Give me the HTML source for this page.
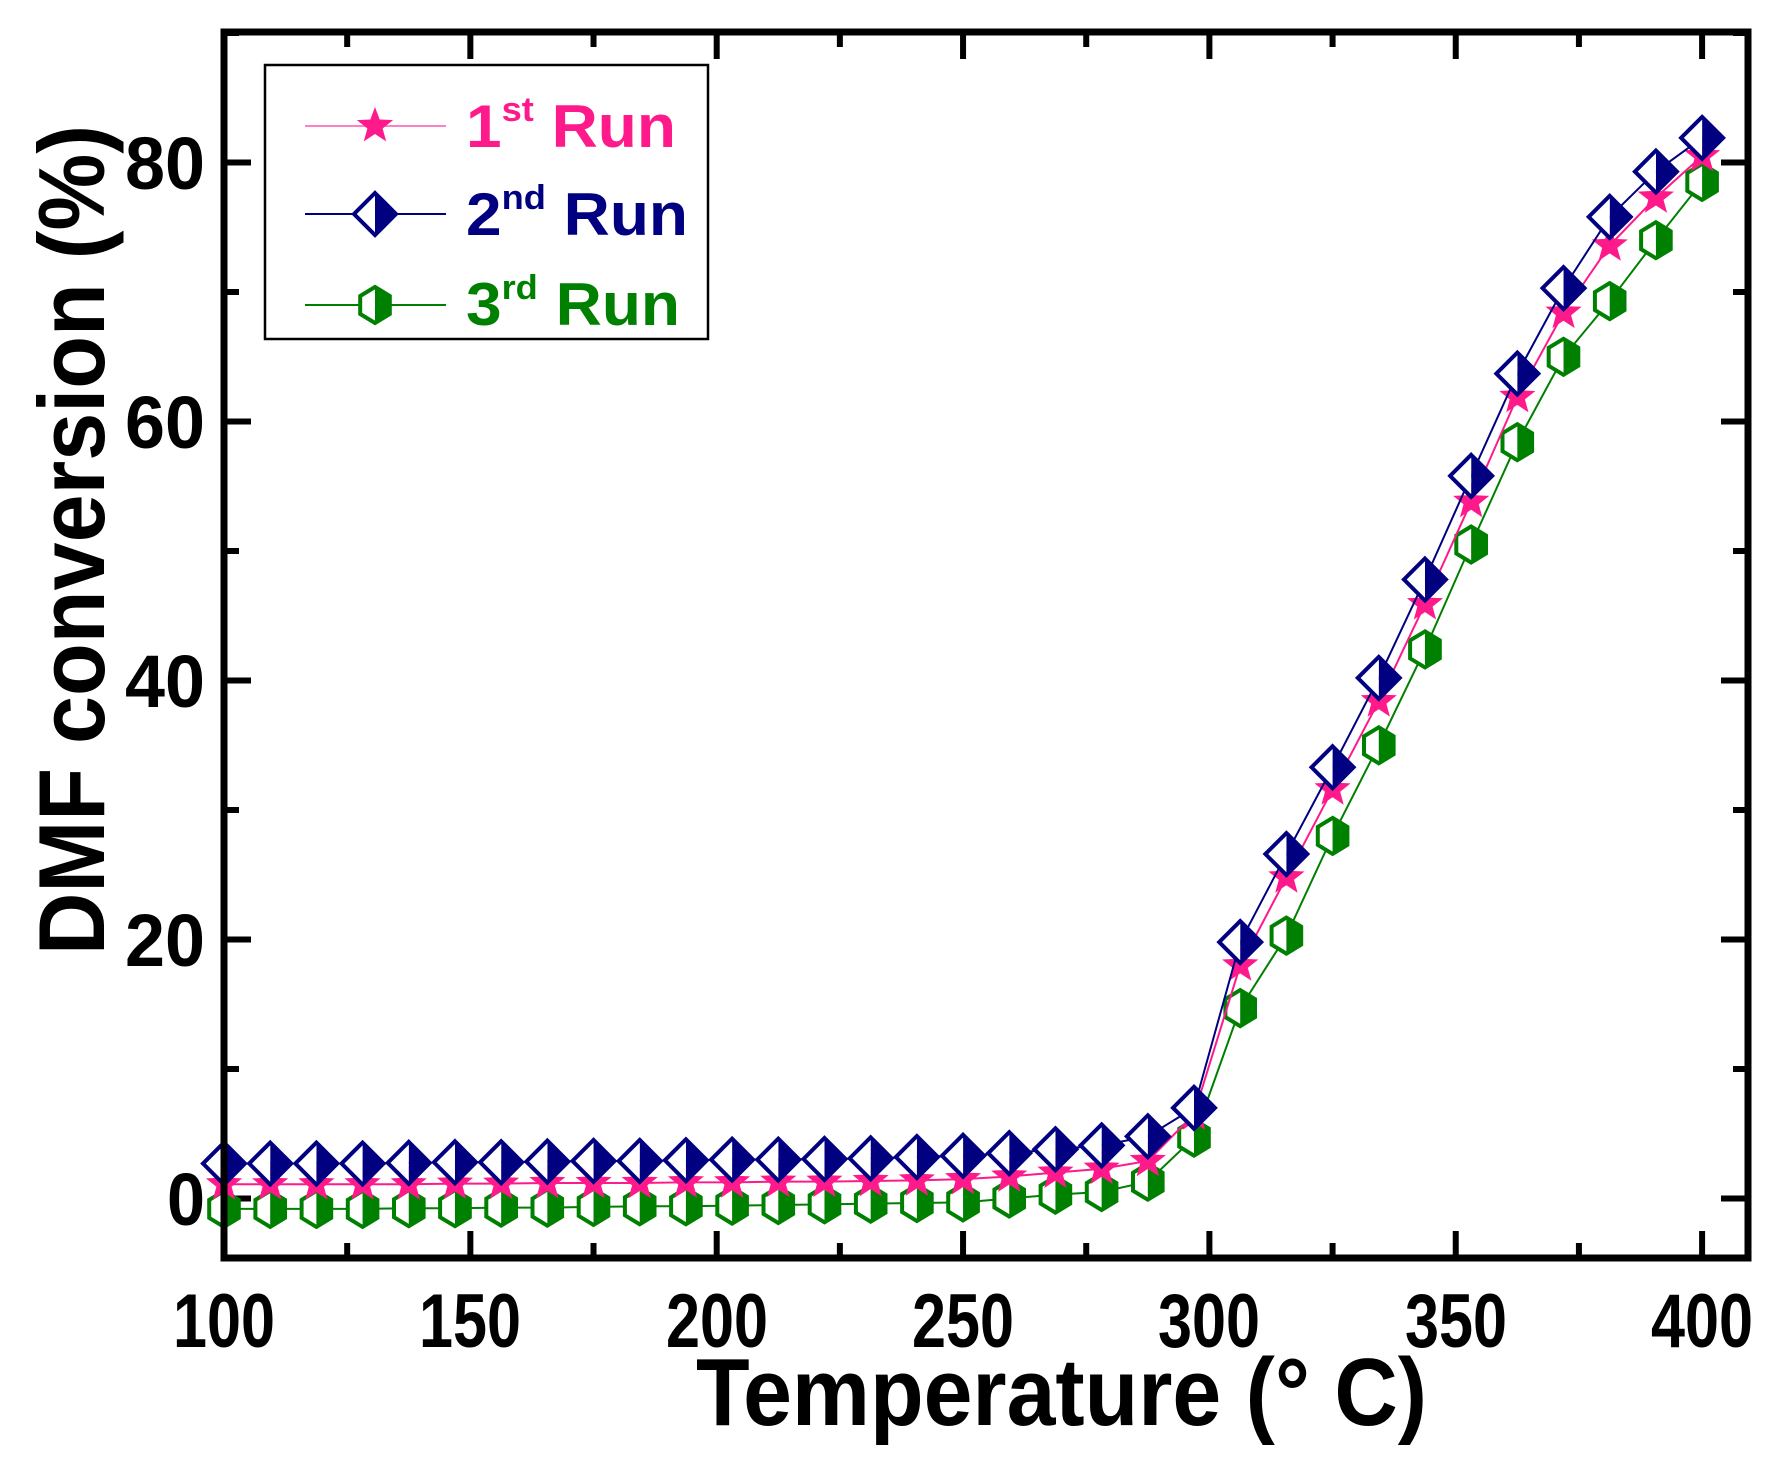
<!DOCTYPE html>
<html><head><meta charset="utf-8"><style>
html,body{margin:0;padding:0;background:#fff;}
svg{display:block;}
text{font-family:"Liberation Sans",Arial,sans-serif;font-weight:bold;}
</style></head><body>
<svg id="s" width="1776" height="1462" viewBox="0 0 1776 1462" xmlns="http://www.w3.org/2000/svg">
<rect width="1776" height="1462" fill="#fff"/>
<g id="g"></g>
<rect x="224" y="32" width="1524" height="1226" fill="none" stroke="#000" stroke-width="7"/>
<g font-size="74" text-anchor="end">
<text x="205" y="1225" textLength="38" lengthAdjust="spacingAndGlyphs">0</text>
<text x="205" y="966" textLength="80" lengthAdjust="spacingAndGlyphs">20</text>
<text x="205" y="707" textLength="80" lengthAdjust="spacingAndGlyphs">40</text>
<text x="205" y="448" textLength="80" lengthAdjust="spacingAndGlyphs">60</text>
<text x="205" y="189" textLength="80" lengthAdjust="spacingAndGlyphs">80</text>
</g>
<g font-size="76" text-anchor="middle">
<text x="224" y="1347" textLength="102" lengthAdjust="spacingAndGlyphs">100</text>
<text x="470" y="1347" textLength="102" lengthAdjust="spacingAndGlyphs">150</text>
<text x="717" y="1347" textLength="102" lengthAdjust="spacingAndGlyphs">200</text>
<text x="963" y="1347" textLength="102" lengthAdjust="spacingAndGlyphs">250</text>
<text x="1209" y="1347" textLength="102" lengthAdjust="spacingAndGlyphs">300</text>
<text x="1456" y="1347" textLength="102" lengthAdjust="spacingAndGlyphs">350</text>
<text x="1702" y="1347" textLength="102" lengthAdjust="spacingAndGlyphs">400</text>
</g>
<text x="696" y="1425" font-size="96" textLength="731" lengthAdjust="spacingAndGlyphs">Temperature (° C)</text>
<text transform="translate(104,955) rotate(-90)" font-size="94" textLength="830" lengthAdjust="spacingAndGlyphs">DMF conversion (%)</text>
<rect x="265" y="65" width="443" height="274" fill="#fff" stroke="#000" stroke-width="2.5"/>
<g id="leg"></g>
<g font-size="60">
<text x="466" y="147" fill="#ff1a8c" textLength="210" lengthAdjust="spacingAndGlyphs">1<tspan font-size="34" dy="-26">st</tspan><tspan dy="26"> Run</tspan></text>
<text x="466" y="235" fill="#000080" textLength="222" lengthAdjust="spacingAndGlyphs">2<tspan font-size="34" dy="-26">nd</tspan><tspan dy="26"> Run</tspan></text>
<text x="466" y="325" fill="#008000" textLength="214" lengthAdjust="spacingAndGlyphs">3<tspan font-size="34" dy="-26">rd</tspan><tspan dy="26"> Run</tspan></text>
</g>
</svg>
<script>
var NS="http://www.w3.org/2000/svg";
var g=document.getElementById('g'), leg=document.getElementById('leg');
function X(v){return 224+(v-100)*4.927;}
function Y(v){return 1198.5-v*12.95;}
function el(p,t,a){var e=document.createElementNS(NS,t);for(var k in a)e.setAttribute(k,a[k]);p.appendChild(e);return e;}
var tk="";
for(var v=100;v<=400;v+=25){var maj=(v%50==0),L=maj?27:15,x=X(v);
 tk+="M"+x+" 1258V"+(1258-L)+"M"+x+" 32V"+(32+L);}
for(var v=0;v<=90;v+=10){var maj=(v%20==0),L=maj?27:15,y=Y(v);
 tk+="M224 "+y+"H"+(224+L)+"M1748 "+y+"H"+(1748-L);}
el(g,'path',{d:tk,stroke:'#000','stroke-width':6,fill:'none'});
var B=[2.7,2.7,2.7,2.7,2.75,2.8,2.8,2.85,2.9,2.9,2.95,3,3,3.05,3.1,3.2,3.3,3.5,3.8,4.1,4.8,7,19.8,26.6,33.3,40.2,47.8,55.8,63.7,70.3,75.8,79.3,81.9];
var P=[1.1,1.1,1.1,1.1,1.1,1.15,1.15,1.2,1.2,1.2,1.25,1.25,1.3,1.3,1.35,1.4,1.5,1.7,2.0,2.3,2.9,6.5,18,24.8,31.6,38.4,45.9,53.8,61.9,68.4,73.6,77.3,80.5];
var G=[-0.8,-0.8,-0.8,-0.8,-0.75,-0.75,-0.7,-0.7,-0.65,-0.6,-0.6,-0.55,-0.5,-0.45,-0.4,-0.35,-0.3,0,0.3,0.5,1.3,4.7,14.7,20.3,28,35,42.4,50.5,58.4,65,69.3,74,78.5];
function pts(a){return a.map(function(v,i){return [X(100+i*9.375),Y(v)];});}
function diamond(p,x,y){var r=21;
 el(p,'path',{d:"M"+x+" "+(y-r)+"L"+(x+r)+" "+y+"L"+x+" "+(y+r)+"Z",fill:'#000080'});
 el(p,'path',{d:"M"+x+" "+(y-r)+"L"+(x-r)+" "+y+"L"+x+" "+(y+r)+"Z",fill:'#fff'});
 el(p,'path',{d:"M"+x+" "+(y-r)+"L"+(x+r)+" "+y+"L"+x+" "+(y+r)+"L"+(x-r)+" "+y+"Z",fill:'none',stroke:'#000080','stroke-width':4});}
function hexa(p,x,y){var r=18,pp=[];for(var k=0;k<6;k++){var a=Math.PI/2+k*Math.PI/3;pp.push([x+r*0.95*Math.cos(a),y-r*Math.sin(a)]);}
 var d="M"+pp.map(function(q){return q[0].toFixed(1)+" "+q[1].toFixed(1);}).join("L")+"Z";
 el(p,'path',{d:d,fill:'#fff'});
 el(p,'path',{d:"M"+x+" "+(y-r)+"L"+pp[5][0]+" "+pp[5][1]+"L"+pp[4][0]+" "+pp[4][1]+"L"+x+" "+(y+r)+"Z",fill:'#008000'});
 el(p,'path',{d:d,fill:'none',stroke:'#008000','stroke-width':4});}
function star(p,x,y){var d="",R=19,r=8;for(var k=0;k<10;k++){var a=-Math.PI/2+k*Math.PI/5,rr=k%2?r:R;d+=(k?"L":"M")+(x+rr*Math.cos(a)).toFixed(1)+" "+(y+rr*Math.sin(a)).toFixed(1);}
 el(p,'path',{d:d+"Z",fill:'#ff1a8c'});}
function series(a,col,fn){var q=pts(a);
 el(g,'polyline',{points:q.map(function(z){return z.join(",");}).join(" "),fill:'none',stroke:col,'stroke-width':2});
 q.forEach(function(z){fn(g,z[0],z[1]);});}
series(G,'#008000',hexa);
series(P,'#ff1a8c',star);
series(B,'#000080',diamond);
el(leg,'line',{x1:305,y1:126,x2:446,y2:126,stroke:'#ff80c0','stroke-width':2});star(leg,375,126);
el(leg,'line',{x1:305,y1:214,x2:446,y2:214,stroke:'#000080','stroke-width':2});diamond(leg,375,214);
el(leg,'line',{x1:305,y1:305,x2:446,y2:305,stroke:'#008000','stroke-width':2});hexa(leg,375,305);
</script>
</body></html>
